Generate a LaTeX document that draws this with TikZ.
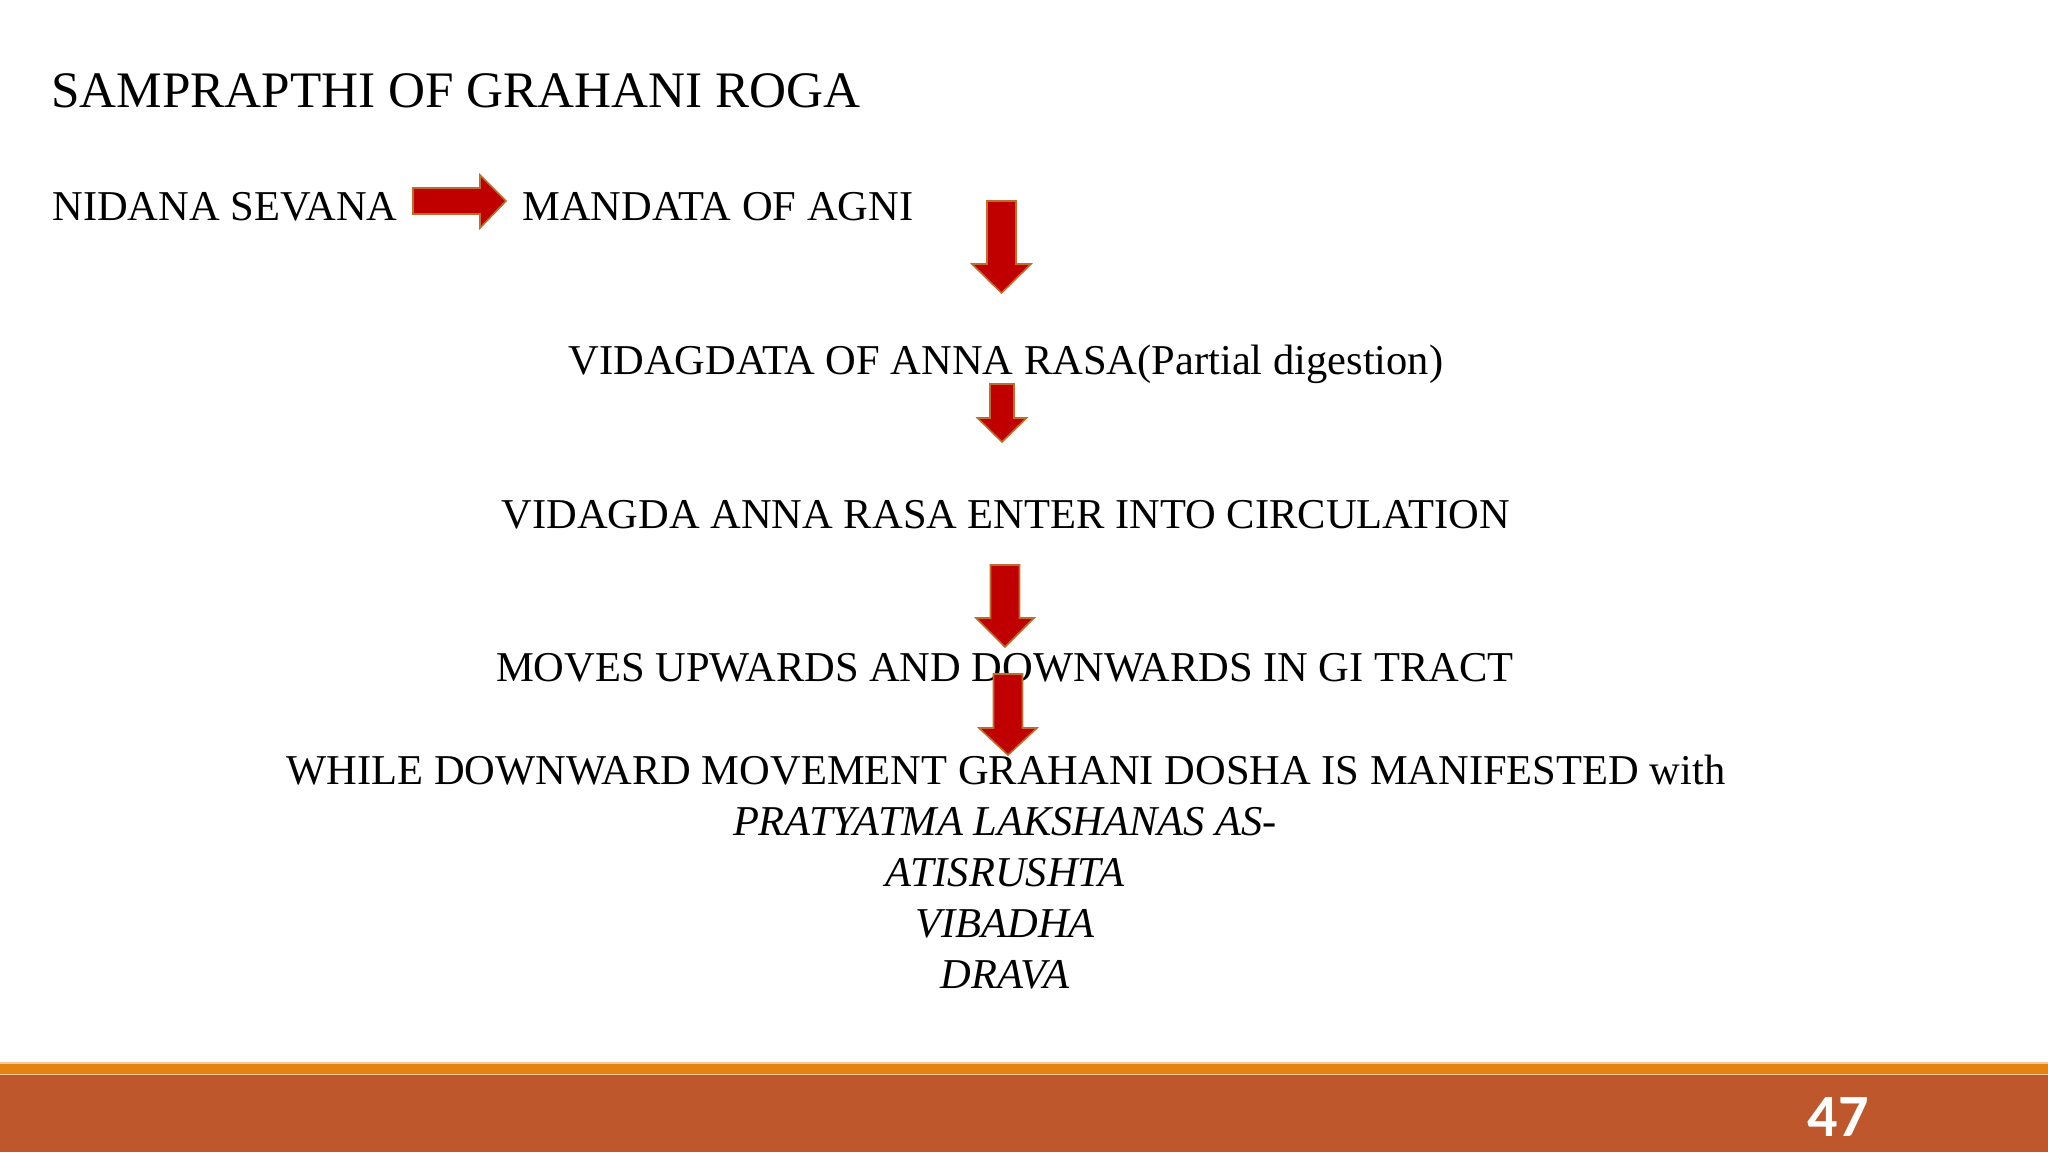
\documentclass[tikz,border=0pt]{standalone}
\usepackage{fontspec}
\setmainfont{Liberation Serif}
\newfontfamily\numfont{Carlito}
\definecolor{arrowred}{RGB}{192,0,0}
\definecolor{arrowedge}{RGB}{190,110,40}
\definecolor{barrust}{RGB}{190,88,44}
\definecolor{barorange}{RGB}{228,131,18}
\definecolor{barlight}{RGB}{247,200,150}
\tikzset{
  titletxt/.style={inner sep=0pt, anchor=base west, font=\fontsize{25.6}{30}\selectfont},
  bodytxt/.style={inner sep=0pt, anchor=base, font=\fontsize{21.25}{25}\selectfont},
  bodyleft/.style={bodytxt, anchor=base west},
  italtxt/.style={bodytxt, font=\fontsize{21.25}{25}\selectfont\itshape},
  blockarrow/.style={fill=arrowred, draw=arrowedge, line width=0.8pt, line join=miter},
  pagenum/.style={inner sep=0pt, text=white, font=\numfont\bfseries\fontsize{30}{36}\selectfont}
}
\newcommand\blkdown[6]{%
  \draw[blockarrow] ({#1-#5},#2) -- ({#1+#5},#2) -- ({#1+#5},#3) -- ({#1+#6},#3)
    -- (#1,#4) -- ({#1-#6},#3) -- ({#1-#5},#3) -- cycle;}
\begin{document}
\begin{tikzpicture}[x=0.5pt,y=-0.5pt]
\useasboundingbox[fill=white] (0,0) rectangle (2048,1152);
% bottom bar
\fill[barrust] (0,1074) rectangle (2048,1152);
\fill[barorange] (0,1063) rectangle (2048,1074);
\draw[barlight, line width=0.6pt] (0,1063) -- (2048,1063);
\draw[barlight, line width=0.8pt] (0,1074.5) -- (2048,1074.5);
\node[pagenum] (num) at (1838,1117) {47};
% texts
\node[titletxt] (title) at (51,107) {SAMPRAPTHI OF GRAHANI ROGA};
\node[bodyleft] (nidana) at (52,220) {NIDANA SEVANA};
\node[bodyleft] (mandata) at (522,220) {MANDATA OF AGNI};
\node[bodytxt] (vidagdata) at (1006,374) {VIDAGDATA OF ANNA RASA(Partial digestion)};
\node[bodytxt] (enter) at (1006,528) {VIDAGDA ANNA RASA ENTER INTO CIRCULATION};
\node[bodytxt] (moves) at (1005,681) {MOVES UPWARDS AND DOWNWARDS IN GI TRACT};
\node[bodytxt] (while) at (1006,784) {WHILE DOWNWARD MOVEMENT GRAHANI DOSHA IS MANIFESTED with};
\node[italtxt] (pratyatma) at (1005,835) {PRATYATMA LAKSHANAS AS-};
\node[italtxt] (atis) at (1005,886) {ATISRUSHTA};
\node[italtxt] (vibadha) at (1005,937) {VIBADHA};
\node[italtxt] (drava) at (1005,988) {DRAVA};
% arrows
\draw[blockarrow] (413,188) -- (480,188) -- (480,175) -- (506,201) -- (480,228)
  -- (480,214) -- (413,214) -- cycle;
\blkdown{1001.5}{201}{264}{293}{14.5}{29.5}
\blkdown{1002}{384}{418}{442}{12}{24.5}
\blkdown{1005}{565}{618}{647}{14.5}{29}
\blkdown{1008}{674}{728}{755}{14.5}{29}
\end{tikzpicture}
\end{document}
